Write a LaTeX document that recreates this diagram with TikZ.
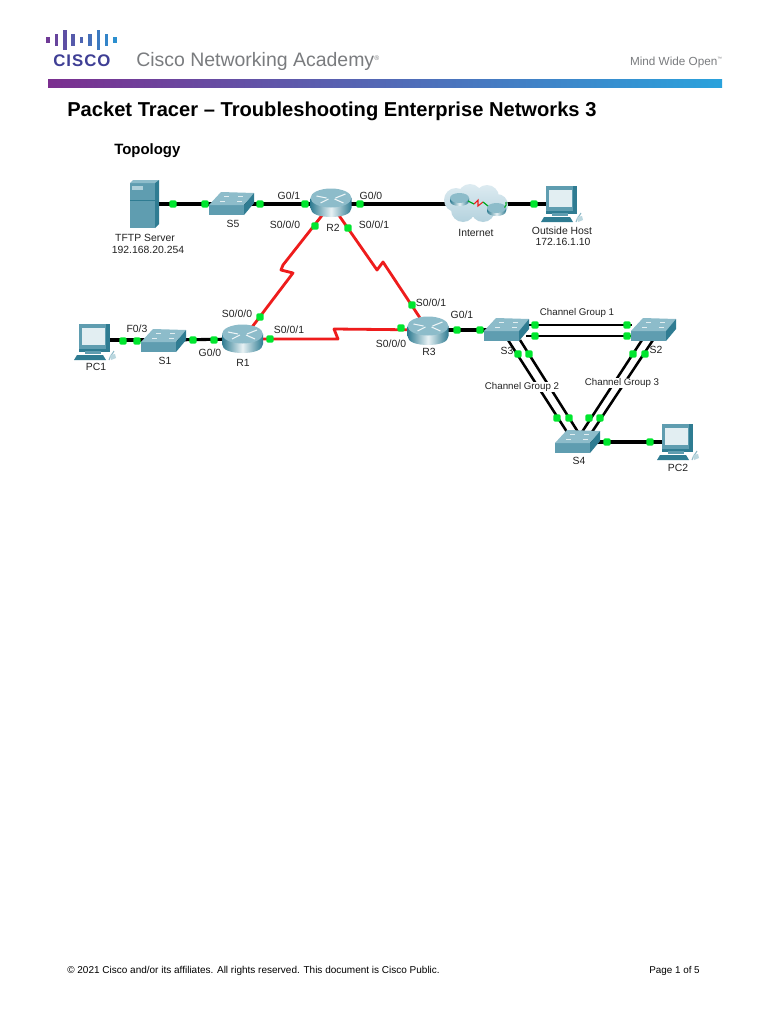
\documentclass[tikz,border=0pt]{standalone}
\usepackage{fontspec}
\setmainfont{Liberation Sans}
\newfontfamily\ciscofont[LetterSpace=6]{Liberation Sans}
\usetikzlibrary{calc}
\definecolor{swtop}{HTML}{8DBCCA}
\definecolor{swfront}{HTML}{5F9DB0}
\definecolor{swside}{HTML}{2F7C92}
\definecolor{linkred}{HTML}{EE1C1C}
\definecolor{portgreen}{HTML}{00E62E}
\definecolor{lbltext}{HTML}{222222}
\definecolor{headgray}{HTML}{7A7C7F}
\definecolor{barleft}{HTML}{7B2F8F}
\definecolor{barmid}{HTML}{2F4C9E}
\definecolor{barright}{HTML}{2AA2DC}
\definecolor{cisword}{HTML}{3F3F95}
\definecolor{cloudtop}{HTML}{DDEBF1}
\definecolor{cloudbot}{HTML}{B4D2DE}
\tikzset{
  x=0.75pt, y=-0.75pt,
  blackline/.style={draw=black, line width=2.3pt},
  chanline/.style={draw=black, line width=1.9pt},
  redline/.style={draw=linkred, line width=2.1pt, line join=round},
  portdot/.style={fill=portgreen, draw=none, rectangle, rounded corners=1pt, minimum size=5.4pt, inner sep=0pt},
  lbl/.style={font=\fontsize{7.8}{9.5}\selectfont, text=lbltext, inner sep=0pt, align=center},
  chanlbl/.style={lbl, font=\fontsize{7.3}{9}\selectfont, fill=white, inner sep=0.6pt},
  pics/switchpic/.style={code={
    \fill[swfront] (0,13) -- (35,13) -- (35,23) -- (0,23) -- cycle;
    \fill[swtop] (0,13) -- (12,0) -- (45,1) -- (35,13) -- cycle;
    \fill[swside] (35,13) -- (45,1) -- (45,11) -- (35,23) -- cycle;
    \draw[white, line width=0.4pt, opacity=0.75] (11,9) -- (16,9) (28,9) -- (33,9) (15,4) -- (20,4) (29,4) -- (34,4);
  }},
  pics/routerpic/.style={code={
    \shade[left color=swside, right color=swside, middle color=white!80!swtop]
      (0,9) -- (0,19) .. controls (0,25) and (9,28) .. (20.5,28) .. controls (32,28) and (41,25) .. (41,19) -- (41,9) -- cycle;
    \fill[swtop] (20.5,9) ellipse [x radius=20.5, y radius=9.5];
    \draw[white, line width=0.8pt, opacity=0.85] (6,7) -- (16,9) (35,5) -- (25,9) (10,14) -- (18,10) (33,14) -- (24,10);
  }},
  pics/pcpic/.style={code={
    \fill[swside] (5,0) -- (36,0) -- (36,28) -- (5,28) -- cycle;
    \fill[swfront] (5,0) -- (32,0) -- (32,25) -- (5,25) -- cycle;
    \fill[white!75!swtop] (8,4) -- (31,4) -- (31,21) -- (8,21) -- cycle;
    \fill[swfront] (11,27) -- (27,27) -- (27,30) -- (11,30) -- cycle;
    \fill[swside] (3,31) -- (29,31) -- (32,36) -- (0,36) -- cycle;
    \draw[swfront!70!white, line width=0.8pt] (35,36) .. controls (37,30) and (38,31) .. (40,27);
    \fill[swtop!60!white] (36,31) -- (41,30) -- (42,34) -- (37,36) -- cycle;
  }},
  pics/serverpic/.style={code={
    \fill[swfront] (0,3) -- (25,3) -- (25,48) -- (0,48) -- cycle;
    \fill[swtop] (0,3) -- (3,0) -- (29,0) -- (25,3) -- cycle;
    \fill[swside] (25,3) -- (29,0) -- (29,44) -- (25,48) -- cycle;
    \fill[swtop!70!white] (2,6) -- (13,6) -- (13,10) -- (2,10) -- cycle;
    \draw[swside, line width=0.4pt] (0,20) -- (25,20);
  }},
  pics/minirouter/.style={code={
    \shade[left color=swside, right color=swside, middle color=white!80!swtop]
      (0,5) -- (0,8) .. controls (0,11) and (4,13) .. (9.5,13) .. controls (15,13) and (19,11) .. (19,8) -- (19,5) -- cycle;
    \fill[swtop] (9.5,5) ellipse [x radius=9.5, y radius=5];
  }},
}
\begin{document}
\begin{tikzpicture}
\useasboundingbox (0,0) rectangle (768,1024);
\fill[white] (0,0) rectangle (768,1024);

% ---------- header ----------
\foreach \bx/\bh/\bc in {48/3/0,56.5/6/12,65/10/25,73/6/37,81.5/3/50,90/6/62,98.5/10/75,106.5/6/87,115/3/100}{
  \definecolor{barc}{HTML}{6F3A96}
  \definecolor{bard}{HTML}{2B8FCF}
  \fill[bard!\bc!barc] (\bx-1.7,40-\bh) rectangle (\bx+1.7,40+\bh);
}
\node[anchor=base west, inner sep=0pt, text=cisword] (ciscoword) at (53,67)
  {\ciscofont\fontsize{12.6}{14}\bfseries CISCO};
\node[anchor=base west, inner sep=0pt, text=headgray] (academy) at (136,67)
  {\fontsize{14.6}{16}\selectfont Cisco Networking Academy\textsuperscript{\fontsize{5}{5}\selectfont ®}};
\node[anchor=base east, inner sep=0pt, text=headgray] (mind) at (723,66)
  {\fontsize{8.8}{10}\selectfont Mind Wide Open\textsuperscript{\fontsize{3.5}{4}\selectfont ™}};
\shade[left color=barleft, middle color=barmid, right color=barright]
  (48,80) rectangle (722,88);
\node[anchor=base west, inner sep=0pt, text=black] (title) at (67,116)
  {\fontsize{15.1}{18}\bfseries Packet Tracer – Troubleshooting Enterprise Networks 3};
\node[anchor=base west, inner sep=0pt, text=black] (topology) at (114,154)
  {\fontsize{11.2}{13}\bfseries Topology};

% ---------- device anchors ----------
\coordinate (tftp) at (145,204);
\coordinate (s5) at (232,204);
\coordinate (r2) at (331,204);
\coordinate (inet) at (476,204);
\coordinate (host) at (560,204);
\coordinate (pc1) at (96,340);
\coordinate (s1) at (164,340);
\coordinate (r1) at (243,339);
\coordinate (r3) at (428,330);
\coordinate (s3) at (507,330);
\coordinate (s4) at (578,442);
\coordinate (pc2) at (676,442);
\coordinate (s3e) at (528,325);
\coordinate (s3f) at (526,336);
\coordinate (s2e) at (632,325);
\coordinate (s2f) at (632,336);
\coordinate (s3g) at (508,340);
\coordinate (s3h) at (520,340);
\coordinate (s4g) at (567,432);
\coordinate (s4h) at (578,432);
\coordinate (s2g) at (642,340);
\coordinate (s2h) at (653,340);
\coordinate (s4i) at (582,432);
\coordinate (s4j) at (592,432);

% ---------- connectors ----------
\draw[blackline] (tftp) -- (s5);
\draw[blackline] (s5) -- (r2);
\draw[blackline] (r2) -- (inet);
\draw[blackline] (inet) -- (host);
\draw[blackline] (pc1) -- (s1);
\draw[blackline] (s1) -- (r1);
\draw[blackline] (r3) -- (s3);
\draw[blackline] (s4) -- (pc2);
\draw[chanline] (s3e) -- (s2e);
\draw[chanline] (s3f) -- (s2f);
\draw[chanline] (s3g) -- (s4g);
\draw[chanline] (s3h) -- (s4h);
\draw[chanline] (s2g) -- (s4i);
\draw[chanline] (s2h) -- (s4j);
\draw[redline] (r2) -- (283,265) -- (281,270) -- (293,273) -- (r1);
\draw[redline] (r2) -- (377,270) -- (383,262) -- (r3);
\draw[redline] (r1) -- (338,339) -- (334,329) -- (r3);

% ---------- devices ----------
\pic at (130,180) {serverpic};
\pic at (209,192) {switchpic};
\pic at (310.5,189) {routerpic};
% cloud
\shade[top color=cloudtop, bottom color=cloudbot] (476,204) ellipse [x radius=27, y radius=13]
  (456,200) circle (12) (470,196) circle (12) (487,197) circle (12) (497,205) circle (11) (483,210) circle (12) (463,210) circle (12);
\pic at (450,193) {minirouter};
\pic at (487,203) {minirouter};
\draw[portgreen!75!black, line width=0.9pt] (468,201) -- (474,204);
\draw[linkred, line width=0.8pt] (474,204) -- (478,200) -- (478,206) -- (483,202);
\draw[portgreen!75!black, line width=0.9pt] (483,202) -- (488,206);
\draw[portgreen!75!black, line width=0.9pt] (506,202) arc (-20:50:5);
\pic at (541,186) {pcpic};
\pic at (74,324) {pcpic};
\pic at (141,329) {switchpic};
\pic at (222,325) {routerpic};
\pic at (407.5,317) {routerpic};
\pic at (484,318) {switchpic};
\pic at (631,318) {switchpic};
\pic at (555,430) {switchpic};
\pic at (657,424) {pcpic};

% ---------- port dots ----------
\foreach \n/\x/\y in {a/173/204,b/205/204,c/260/204,d/305/204,e/360/204,f/534/204,
  g/315/226,h/348/228,i/260/317,j/412/305,k/123/341,l/137/341,m/193/340,n/214/340,
  o/270/339,p/401/328,q/457/330,r/480/330,
  s/535/325,t/535/336,u/627/325,v/627/336}{
  \node[portdot] (dot\n) at (\x,\y) {};
}

% ---------- labels ----------
\node[lbl] (ltftp) at (145,238) {TFTP Server};
\node[lbl] (lip1) at (148,250) {192.168.20.254};
\node[lbl] (ls5) at (233,224) {S5};
\node[lbl] (l1) at (289,196) {G0/1};
\node[lbl] (l2) at (285,225) {S0/0/0};
\node[lbl] (lr2) at (333,228) {R2};
\node[lbl] (l3) at (374,225) {S0/0/1};
\node[lbl] (l4) at (371,196) {G0/0};
\node[lbl] (linet) at (476,233) {Internet};
\node[lbl] (lhost) at (562,231) {Outside Host};
\node[lbl] (lip2) at (563,242) {172.16.1.10};
\node[lbl] (lpc1) at (96,367) {PC1};
\node[lbl] (l5) at (137,329) {F0/3};
\node[lbl] (ls1) at (165,361) {S1};
\node[lbl] (l6) at (210,353) {G0/0};
\node[lbl] (lr1) at (243,363) {R1};
\node[lbl] (l7) at (237,314) {S0/0/0};
\node[lbl] (l8) at (289,330) {S0/0/1};
\node[lbl] (l9) at (391,344) {S0/0/0};
\node[lbl] (lr3) at (429,352) {R3};
\node[lbl] (l10) at (431,303) {S0/0/1};
\node[lbl] (l11) at (462,315) {G0/1};
\node[lbl] (ls3) at (507,351) {S3};
\node[lbl] (ls2) at (656,350) {S2};
\node[lbl] (ls4) at (579,461) {S4};
\node[lbl] (lpc2) at (678,468) {PC2};
\node[chanlbl, fill=none] (lcg1) at (577,313) {Channel Group 1};
\node[chanlbl] (lcg2) at (522,387) {Channel Group 2};
\node[chanlbl] (lcg3) at (622,383) {Channel Group 3};

\foreach \n/\x/\y in {w/518/354,x/529/354,y/557/418,z/569/418,aa/633/354,ab/645/354,ac/589/418,ad/600/418,ae/607/442,af/650/442}{
  \node[portdot] (dot\n) at (\x,\y) {};
}

% ---------- footer ----------
\node[anchor=base west, inner sep=0pt, text=black] (foot) at (67,973)
  {\fontsize{7.5}{9}\selectfont © 2021 Cisco and/or its affiliates. All rights reserved. This document is Cisco Public.};
\node[anchor=base east, inner sep=0pt, text=black] (page) at (700,973)
  {\fontsize{7.4}{9}\selectfont Page 1 of 5};
\end{tikzpicture}
\end{document}
